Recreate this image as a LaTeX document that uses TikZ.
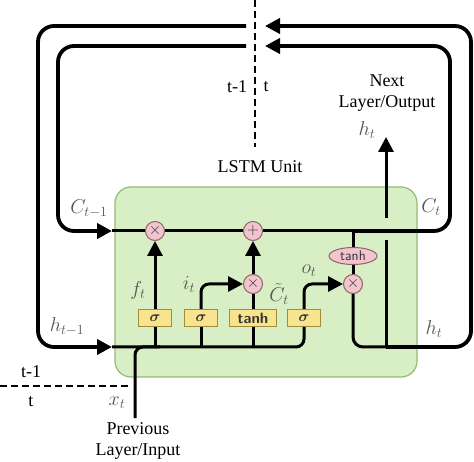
\documentclass[tikz,border=0pt]{standalone}
\usepackage{fix-cm}
\usepackage{amsmath, amssymb}
\usepackage{fontspec}
\setmainfont{Liberation Serif}
\usepackage{xcolor}
\usetikzlibrary{arrows.meta}
\usetikzlibrary{shapes}

\definecolor{cellgreen}{RGB}{216,238,196}
\definecolor{cellborder}{RGB}{150,185,115}
\definecolor{gateyellow}{RGB}{248,228,140}
\definecolor{gateborder}{RGB}{160,140,60}
\definecolor{oppink}{RGB}{242,196,206}
\definecolor{opborder}{RGB}{140,100,110}
\definecolor{labelgray}{RGB}{85,85,85}

\begin{document}
\begin{tikzpicture}[x = 1pt, y = -1pt]
\tikzstyle{WireStyle} = [line width = 3pt]
\tikzstyle{LoopStyle} = [line width = 3.8pt, rounded corners = 16pt]
\tikzstyle{ArrowStyle} = [-{Triangle[length = 15pt, width = 15pt]}]
\tikzstyle{GateStyle} = [shape = rectangle, draw = gateborder, fill = gateyellow, line width = 1pt, minimum height = 17pt, minimum width = 33pt, inner sep = 1pt, text = black!80, font = \sffamily\bfseries\fontsize{15}{15}\selectfont]
\tikzstyle{OpStyle} = [shape = circle, draw = opborder, fill = oppink, line width = 1pt, minimum size = 19pt, inner sep = 0pt, text = black!80, font = \fontsize{16}{16}\selectfont]
\tikzstyle{TanhStyle} = [shape = ellipse, draw = opborder, fill = oppink, line width = 1pt, minimum width = 48pt, minimum height = 17pt, inner sep = 0pt, text = black!80, font = \sffamily\fontsize{14}{14}\selectfont]
\tikzstyle{MathLabel} = [text = labelgray, inner sep = 0pt, font = \fontsize{20}{20}\selectfont]
\tikzstyle{TextLabel} = [inner sep = 0pt, align = center, font = \fontsize{18}{21}\selectfont]
\tikzstyle{TimeDash} = [line width = 2.4pt, dash pattern = on 7pt off 4pt]

\useasboundingbox (0,0) rectangle (474,462);

% the cell
\node[draw = cellborder, fill = cellgreen, line width = 1.2pt, rounded corners = 16pt, minimum width = 302pt, minimum height = 190pt] (cell) at (266,282) {};

% gates and pointwise operations
\node[GateStyle] (sigf) at (155,318) {$\boldsymbol{\sigma}$};
\node[GateStyle] (sigi) at (201,318) {$\boldsymbol{\sigma}$};
\node[GateStyle, minimum width = 47pt] (tanhg) at (253,318) {tanh};
\node[GateStyle] (sigo) at (304,318) {$\boldsymbol{\sigma}$};
\node[OpStyle] (mulf) at (155,231) {$\times$};
\node[OpStyle] (addc) at (253,231) {$+$};
\node[OpStyle] (muli) at (253,284) {$\times$};
\node[OpStyle] (mulo) at (353,284) {$\times$};
\node[TanhStyle] (tanhc) at (353,256) {tanh};

% ends and bends
\coordinate (cin) at (112,231);
\coordinate (hin) at (112,347);
\coordinate (ctap) at (353,231);
\coordinate (hout) at (386,347);
\coordinate (hcut) at (386,240);
\coordinate (hjump) at (386,218);
\coordinate (hnext) at (386,137);
\coordinate (hret) at (265,26);
\coordinate (hgap) at (246,26);
\coordinate (cret) at (265,46);
\coordinate (cgap) at (246,46);
\coordinate (xin) at (135,418);
\coordinate (ttop) at (255,0);
\coordinate (tbot) at (255,147);
\coordinate (tleft) at (0,386);
\coordinate (tright) at (131,386);

% time step borders
\draw[TimeDash] (ttop) -- (tbot);
\draw[TimeDash] (tleft) -- (tright);

% cell state
\draw[WireStyle] (cin) -- (mulf);
\draw[WireStyle] (mulf) -- (addc);
\draw[WireStyle] (addc) -- (ctap);
\draw[LoopStyle, ArrowStyle] (ctap) -- (450,231) -- (450,46) -- (cret);
\draw[LoopStyle, ArrowStyle] (cgap) -- (58,46) -- (58,231) -- (cin);

% hidden state
\draw[WireStyle, rounded corners = 10pt] (mulo) -- (353,347) -- (hout);
\draw[LoopStyle, ArrowStyle] (hout) -- (471,347) -- (471,26) -- (hret);
\draw[LoopStyle, ArrowStyle] (hgap) -- (38,26) -- (38,347) -- (hin);
\draw[WireStyle] (hout) -- (hcut);
\draw[WireStyle, ArrowStyle] (hjump) -- (hnext);

% input and gate wiring
\draw[WireStyle, rounded corners = 8pt] (hin) -- (304,347) -- (sigo.south);
\draw[WireStyle, rounded corners = 8pt] (xin) -- (135,347) -- (160,347);
\draw[WireStyle] (sigf.south) -- (sigf.south |- hin);
\draw[WireStyle] (sigi.south) -- (sigi.south |- hin);
\draw[WireStyle] (tanhg.south) -- (tanhg.south |- hin);
\draw[WireStyle, ArrowStyle] (sigf) -- (mulf);
\draw[WireStyle, ArrowStyle, rounded corners = 8pt] (sigi) |- (muli);
\draw[WireStyle] (tanhg) -- (muli);
\draw[WireStyle, ArrowStyle] (muli) -- (addc);
\draw[WireStyle, ArrowStyle, rounded corners = 8pt] (sigo) |- (mulo);
\draw[WireStyle] (ctap) -- (tanhc);
\draw[WireStyle] (tanhc) -- (mulo);

% texts
\node[TextLabel] (tprev) at (237,87) {t-1};
\node[TextLabel] (tnow) at (266,87) {t};
\node[TextLabel] (unit) at (260,167) {LSTM Unit};
\node[TextLabel] (next) at (387,93) {Next\\Layer/Output};
\node[TextLabel] (tprevb) at (31,372) {t-1};
\node[TextLabel] (tnowb) at (31,402) {t};
\node[TextLabel] (prev) at (138,441) {Previous\\Layer/Input};

% state labels
\node[MathLabel] (lhnext) at (367,130) {$h_t$};
\node[MathLabel] (lcprev) at (89,209) {$C_{t-1}$};
\node[MathLabel] (lcnow) at (431,207) {$C_t$};
\node[MathLabel] (lhnow) at (434,329) {$h_t$};
\node[MathLabel] (lhprev) at (67,327) {$h_{t-1}$};
\node[MathLabel] (lf) at (138,291) {$f_t$};
\node[MathLabel] (li) at (189,284) {$i_t$};
\node[MathLabel] (lctilde) at (279,294) {$\tilde{C}_t$};
\node[MathLabel] (lo) at (309,271) {$o_t$};
\node[MathLabel] (lx) at (117,403) {$x_t$};
\end{tikzpicture}
\end{document}
